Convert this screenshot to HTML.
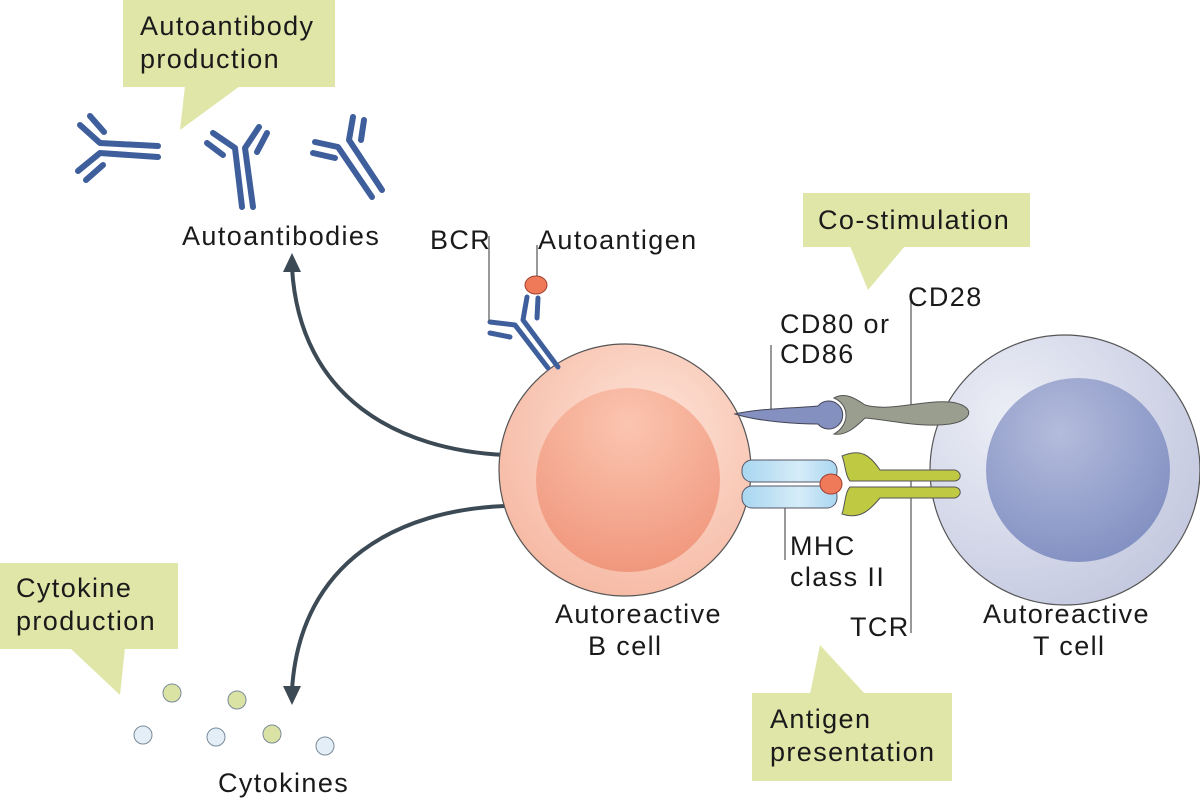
<!DOCTYPE html>
<html><head><meta charset="utf-8"><style>
body{margin:0;background:#fff}
text{font-family:"Liberation Sans",sans-serif;font-size:27px;letter-spacing:1.4px;fill:#1a1a1a}
</style></head><body>
<svg width="1200" height="800" viewBox="0 0 1200 800" xmlns="http://www.w3.org/2000/svg">
<defs>
<radialGradient id="bc" cx="0.6" cy="0.35" r="0.7"><stop offset="0" stop-color="#fde3d8"/><stop offset="1" stop-color="#f6b9a3"/></radialGradient>
<radialGradient id="bn" cx="0.5" cy="0.2" r="0.9"><stop offset="0" stop-color="#fbc5b0"/><stop offset="1" stop-color="#ef9277"/></radialGradient>
<radialGradient id="tc" cx="0.3" cy="0.3" r="0.8"><stop offset="0" stop-color="#eceef6"/><stop offset="1" stop-color="#c3c8df"/></radialGradient>
<radialGradient id="tn" cx="0.4" cy="0.3" r="0.8"><stop offset="0" stop-color="#b4bcdc"/><stop offset="1" stop-color="#7e8cc0"/></radialGradient>
<linearGradient id="mhc" x1="0" x2="1"><stop offset="0" stop-color="#a9d6f0"/><stop offset="0.6" stop-color="#d6ecf8"/><stop offset="1" stop-color="#a9d6f0"/></linearGradient>
</defs>
<!-- callouts -->
<g fill="#dfe6a8">
<rect x="123" y="0" width="212" height="87"/><polygon points="185,86 240,86 180,130"/>
<rect x="803" y="193" width="227" height="54"/><polygon points="850,246 905,246 868,290"/>
<rect x="0" y="563" width="178" height="86"/><polygon points="70,648 125,648 120,695"/>
<rect x="752" y="693" width="200" height="88"/><polygon points="810,694 865,694 820,645"/>
</g>
<text x="140" y="35">Autoantibody</text><text x="140" y="68">production</text>
<text x="818" y="229">Co-stimulation</text>
<text x="16" y="597">Cytokine</text><text x="16" y="630">production</text>
<text x="770" y="728">Antigen</text><text x="770" y="761">presentation</text>
<!-- antibodies -->
<g stroke="#3e5f9c" stroke-width="6" stroke-linecap="round" stroke-linejoin="round" fill="none">
<path d="M80,125 L100,143 L158,146 M158,157 L100,153 L78,171"/><path d="M90,116 L104,132 M86,180 L103,165"/>
<path d="M213,133 L235,148 L242,207 M259,127 L245,148 L253,207"/><path d="M207,143 L223,155 M267,133 L257,152"/>
<path d="M315,142 L338,147 L372,197 M353,117 L349,140 L382,190"/><path d="M313,153 L335,158 M364,120 L361,140"/>
</g>
<text x="182" y="245">Autoantibodies</text>
<!-- cytokines -->
<g stroke="#7a8a9a" stroke-width="1">
<circle cx="172" cy="693" r="9" fill="#dbe3a4"/><circle cx="237" cy="700" r="9" fill="#dbe3a4"/><circle cx="272" cy="734" r="9" fill="#dbe3a4"/>
<circle cx="143" cy="735" r="9" fill="#e3eef6"/><circle cx="216" cy="737" r="9" fill="#e3eef6"/><circle cx="325" cy="746" r="9" fill="#e3eef6"/>
</g>
<text x="218" y="792">Cytokines</text>
<!-- arrows -->
<g stroke="#3c4a55" stroke-width="4" fill="none">
<path d="M525,455 L505,455 C400,450 300,400 292,268"/>
<path d="M525,506 L505,506 C400,510 300,560 292,690"/>
</g>
<polygon points="283,272 292,253 301,272" fill="#3c4a55"/>
<polygon points="283,686 292,705 301,686" fill="#3c4a55"/>
<!-- cells -->
<circle cx="1065" cy="470" r="135" fill="url(#tc)" stroke="#555" stroke-width="1.2"/>
<circle cx="1078" cy="470" r="92" fill="url(#tn)"/>
<circle cx="625" cy="470" r="126" fill="url(#bc)" stroke="#555" stroke-width="1.2"/>
<circle cx="628" cy="480" r="92" fill="url(#bn)"/>
<!-- BCR -->
<g stroke="#3e5f9c" stroke-width="5" stroke-linecap="round" stroke-linejoin="round" fill="none">
<path d="M490,322 L515,325 L548,368 M527,297 L523,320 L558,367"/><path d="M490,333 L510,337 M538,298 L537,318"/>
</g>
<ellipse cx="536" cy="285" rx="11" ry="9" fill="#ef7a5a" stroke="#a04030"/>
<g stroke="#555" stroke-width="1.2"><path d="M489,236 V321 M537,245 V276 M771,345 V415 M911,297 V415 M785,505 V560 M911,480 V633"/></g>
<text x="430" y="249">BCR</text><text x="538" y="249">Autoantigen</text>
<text x="780" y="333">CD80 or</text><text x="780" y="363">CD86</text><text x="908" y="306">CD28</text>
<text x="790" y="555">MHC</text><text x="790" y="586">class II</text><text x="850" y="636">TCR</text>
<text x="555" y="623">Autoreactive</text><text x="588" y="655">B cell</text>
<text x="983" y="623">Autoreactive</text><text x="1033" y="655">T cell</text>
<!-- CD80 -->
<path d="M735,414 C760,408 800,408 818,406 A14,14 0 1 1 818,424 C800,424 760,422 735,414Z" fill="#8390c0" stroke="#445"/>
<path d="M834,398 C845,392 855,398 865,405 C890,412 920,400 950,402 C975,405 975,420 950,424 C920,428 890,420 865,418 C855,428 845,436 834,434 C850,425 850,405 834,398Z" fill="#9a9e8e" stroke="#555"/>
<!-- MHC -->
<rect x="742" y="460" width="95" height="22" rx="10" fill="url(#mhc)" stroke="#556"/>
<rect x="742" y="486" width="95" height="22" rx="10" fill="url(#mhc)" stroke="#556"/>
<path d="M842,456 C860,448 870,455 880,470 L955,470 C962,472 962,480 955,481 L850,481 C845,475 845,462 842,456Z" fill="#bfca42" stroke="#555"/>
<path d="M842,514 C860,520 870,510 880,498 L955,498 C962,496 962,488 955,487 L850,487 C845,492 845,505 842,514Z" fill="#bfca42" stroke="#555"/>
<ellipse cx="831" cy="484" rx="11" ry="10" fill="#ef7a5a" stroke="#a04030"/>
</svg>
</body></html>
